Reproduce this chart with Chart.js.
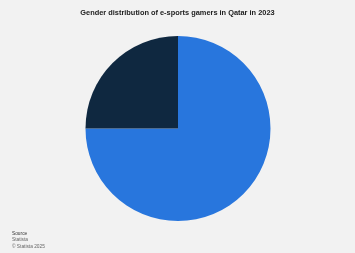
<!DOCTYPE html>
<html>
<head>
<meta charset="utf-8">
<script src="https://cdn.jsdelivr.net/npm/chart.js@4"></script>
<style>
  html, body { margin: 0; padding: 0; background: #f2f2f2; }
  #wrap { position: relative; width: 355px; height: 253px; font-family: "Liberation Sans", Arial, sans-serif; }
  #title { position: absolute; top: 8px; left: 0; width: 355px; text-align: center; font-size: 7.4px; font-weight: bold; color: #222; }
  #source { position: absolute; left: 12px; top: 231px; font-size: 4.8px; line-height: 6.4px; color: #666; }
  #source b { color: #333; font-weight: normal; }
  canvas { position: absolute; left: 0; top: 0; }
</style>
</head>
<body>
<div id="wrap">
  <canvas id="pieChart" width="355" height="253"></canvas>
  <div id="title">Gender distribution of e-sports gamers in Qatar in 2023</div>
  <div id="source"><b>Source</b><br>Statista<br>© Statista 2025</div>
</div>
<script>
// data
const labels = ["Male", "Female"];
const shares = [75, 25];
const colors = ["#2876dd", "#0f2840"];

const ctx = document.getElementById("pieChart");
new Chart(ctx, {
    type: "pie",
    data: {
        labels: labels,
        datasets: [{
            data: shares,
            backgroundColor: colors,
            borderWidth: 0
        }]
    },
    options: {
        responsive: false,
        animation: false,
        layout: { padding: { top: 36, bottom: 32, left: 85, right: 84 } },
        plugins: {
            legend: { display: false },
            tooltip: { enabled: false }
        }
    }
});
</script>
</body>
</html>
